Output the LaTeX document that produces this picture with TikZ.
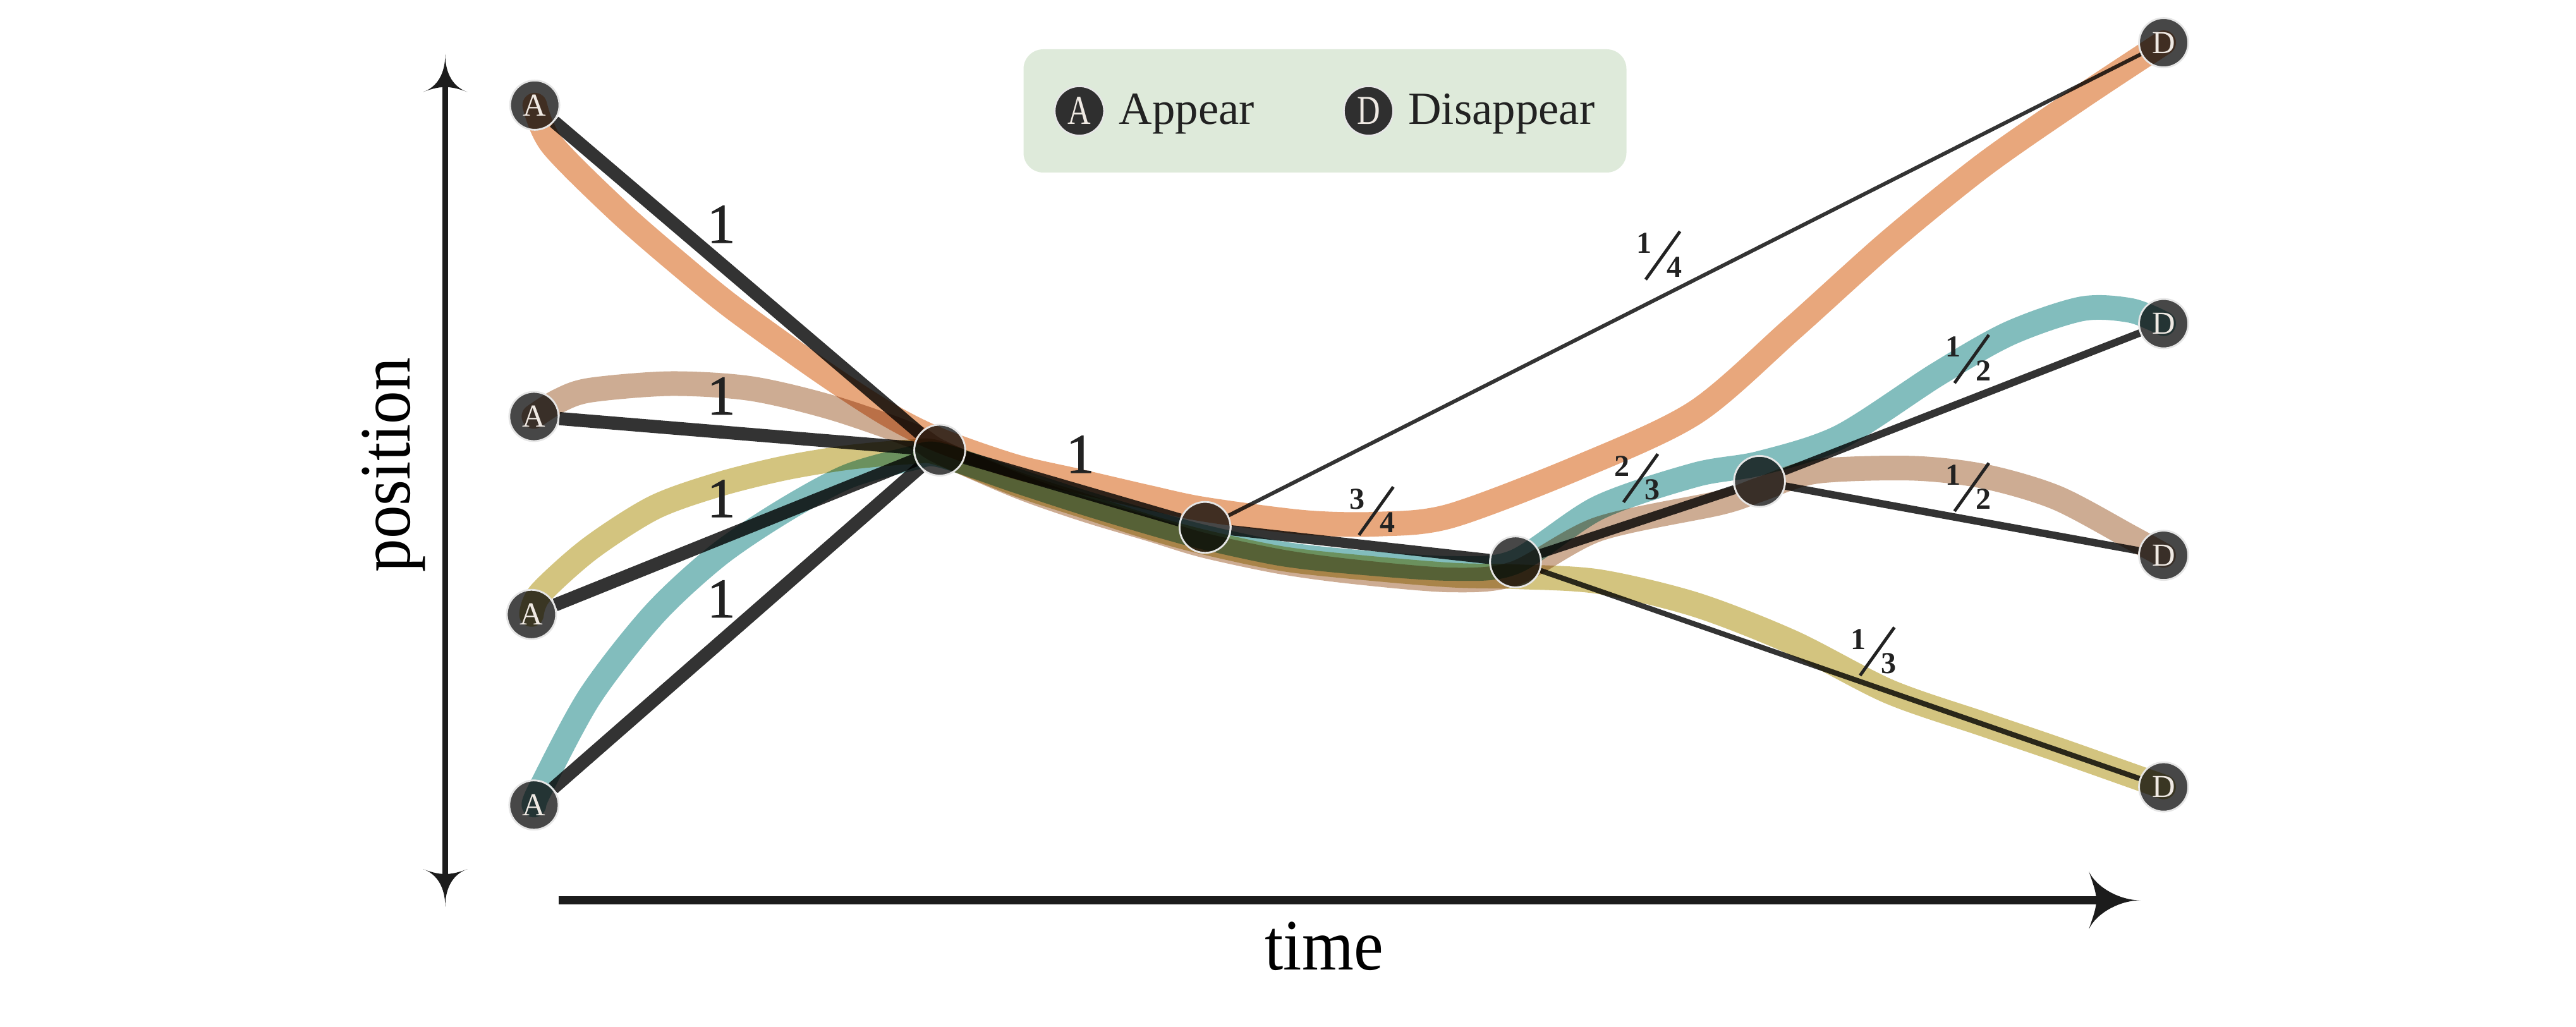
\documentclass[tikz,border=0pt]{standalone}
\usepackage{fontspec}
\setmainfont{Liberation Serif}
\newfontfamily\heavyserif[FakeBold=1.3]{Liberation Serif}
\usetikzlibrary{calc}
\definecolor{orangeT}{HTML}{E8A77C}
\definecolor{tanT}{HTML}{CDAC93}
\definecolor{yellowT}{HTML}{D3C47F}
\definecolor{tealT}{HTML}{82BDBD}
\definecolor{blk}{HTML}{333333}
\definecolor{nodefill}{HTML}{474747}
\definecolor{nodering}{HTML}{E6E6E6}
\definecolor{nodetext}{HTML}{EFE9E3}
\definecolor{legendbg}{HTML}{DEEADA}
\definecolor{legdotc}{HTML}{2F2F2F}
\definecolor{axisc}{HTML}{1C1C1C}
\definecolor{labelc}{HTML}{222222}
\pgfdeclarelayer{bg}
\pgfsetlayers{bg,main}
\newcommand{\myfr}[2]{\rlap{\raisebox{14.5pt}{#1}}\rlap{\hspace{4.8pt}\raisebox{-2pt}{\rotatebox{54.5}{\rule{36pt}{1.9pt}}}}\hspace{18.5pt}#2}
\begin{document}
\begin{tikzpicture}[x=1pt,y=-1pt,
  track/.style={line width=15pt, line cap=round, line join=round},
  conn/.style={draw=blk, line cap=butt},
  endpt/.style={circle, minimum size=30pt, inner sep=0pt, draw=nodering, line width=1.1pt, text=nodetext, font=\fontsize{19.5}{19.5}\selectfont},
  mnode/.style={circle, minimum size=31pt, inner sep=0pt, draw=nodering, line width=1.1pt},
  onelab/.style={text=labelc, font=\heavyserif\fontsize{34}{34}\selectfont, inner sep=0pt},
  fraclab/.style={text=labelc, font=\bfseries\fontsize{18.5}{18.5}\selectfont, inner sep=0pt},
  legbox/.style={fill=legendbg, rounded corners=12pt, minimum width=367pt, minimum height=75pt, inner sep=0pt},
  legdot/.style={circle, fill=legdotc, draw=nodering, line width=1pt, minimum size=30pt, inner sep=0pt, text=nodetext, font=\fontsize{25}{25}\selectfont},
  legtxt/.style={text=labelc, font=\fontsize{28}{28}\selectfont, inner sep=0pt},
  axlab/.style={text=black, font=\fontsize{44}{44}\selectfont, inner sep=0pt},
  axisline/.style={draw=axisc},
]
\useasboundingbox (0,0) rectangle (1568,625);

% legend
\node[legbox] (legend) at (806.5,67.5) {};
\node[legdot] (legA) at (657,67.5) {\scalebox{0.78}[1]{A}};
\node[legtxt, anchor=base west] (legAt) at (681,75.5) {Appear};
\node[legdot] (legD) at (833,67.5) {\scalebox{0.78}[1]{D}};
\node[legtxt, anchor=base west] (legDt) at (857,75.5) {Disappear};

% axes
\coordinate (vtop) at (271,33);
\coordinate (vbot) at (271,552);
\coordinate (hstart) at (340,548);
\coordinate (htip) at (1303,548);
\draw[axisline, line width=3.5pt] (271,52) -- (271,533);
\fill[axisc] (vtop) .. controls (271,45) and (266,53) .. (257.5,56) .. controls (264,53.5) and (268,53) .. (271,53) .. controls (274,53) and (278,53.5) .. (284.5,56) .. controls (276,53) and (271,45) .. (vtop) -- cycle;
\fill[axisc] (vbot) .. controls (271,540) and (266,532) .. (257.5,529) .. controls (264,531.5) and (268,532) .. (271,532) .. controls (274,532) and (278,531.5) .. (284.5,529) .. controls (276,532) and (271,540) .. (vbot) -- cycle;
\draw[axisline, line width=5.3pt] (hstart) -- (1278,548);
\fill[axisc] (htip) .. controls (1290,548) and (1276,540) .. (1271.5,530.5) .. controls (1274,538) and (1276,543) .. (1276,548) .. controls (1276,553) and (1274,558) .. (1271.5,565.5) .. controls (1276,556) and (1290,548) .. (htip) -- cycle;
\node[axlab, rotate=90] (ylab) at (239.5,283) {\scalebox{0.92}[1]{position}};
\node[axlab] (xlab) at (806,576) {\scalebox{0.92}[1]{time}};

% nodes
\node[endpt] (A1) at (325.5,64) {A};
\node[endpt] (A2) at (325,253.5) {A};
\node[endpt] (A3) at (323.5,374) {A};
\node[endpt] (A4) at (325,490) {A};
\node[mnode] (M1) at (572,274) {};
\node[mnode] (M2) at (733.5,321) {};
\node[mnode] (M3) at (922.5,342) {};
\node[mnode] (M4) at (1071,293) {};
\node[endpt] (D1) at (1317,26) {D};
\node[endpt] (D2) at (1317,197) {D};
\node[endpt] (D3) at (1317,338) {D};
\node[endpt] (D4) at (1317,479) {D};

\begin{pgfonlayer}{bg}
\begin{scope}[blend mode=multiply]
% tracks
\draw[track, orangeT] plot[smooth] coordinates {(A1.center) (336,88) (377,129) (415,162) (447,188) (500,226) (540,252) (572,268) (618,284) (657,293) (700,303) (733,310) (794,318) (839,319) (883,314) (962,284) (1032,251) (1091,200) (1150,147) (1208,100) (1267,59) (D1.center)};
\draw[track, tanT] plot[smooth] coordinates {(A2.center) (340,244) (359,237.5) (408,233.5) (457,236.5) (506,248) (555,265) (572,275) (620,296) (660,310) (700,322) (733,332) (780,342) (824,348) (883,353) (922,349) (973,322) (1047,306) (1071,298) (1105,287) (1164,285) (1208,290) (1252,303) (1297,327) (D3.center)};
\draw[track, yellowT] plot[smooth] coordinates {(A3.center) (329,361) (359,334) (398,309) (437,295) (477,285) (516,278.5) (555,275) (572,276) (620,295) (660,308) (700,321) (733,330) (780,340) (824,345) (883,350) (922,351) (973,354) (1032,368) (1091,391) (1150,421) (1208,441) (1252,456) (D4.center)};
\draw[track, tealT] plot[smooth] coordinates {(A4.center) (329,480) (359,424) (398,374) (437,338) (477,311) (516,290) (555,279) (572,277) (620,293) (660,306) (700,318) (733,327) (780,337) (824,342) (883,346) (922,342) (973,309) (1032,289) (1071,282) (1120,266) (1179,228) (1223,203) (1267,188) (1297,189) (D2.center)};
% connectors
\draw[conn, line width=8pt] (A1) -- (M1);
\draw[conn, line width=8pt] (A2) -- (M1);
\draw[conn, line width=8pt] (A3) -- (M1);
\draw[conn, line width=8pt] (A4) -- (M1);
\draw[conn, line width=8pt] (M1) -- (M2);
\draw[conn, line width=2.3pt] (M2) -- (D1);
\draw[conn, line width=6.2pt] (M2) -- (M3);
\draw[conn, line width=5.6pt] (M3) -- (M4);
\draw[conn, line width=3.2pt] (M3) -- (D4);
\draw[conn, line width=4.5pt] (M4) -- (D2);
\draw[conn, line width=4.5pt] (M4) -- (D3);
% node fills
\foreach \n in {A1,A2,A3,A4,D1,D2,D3,D4}{\fill[nodefill] (\n.center) circle[radius=15pt];}
\foreach \n in {M1,M2,M3,M4}{\fill[nodefill] (\n.center) circle[radius=15.5pt];}
\end{scope}
\end{pgfonlayer}

% weight labels
\node[onelab] (w1) at (439,136.5) {1};
\node[onelab] (w2) at (439,241) {1};
\node[onelab] (w3) at (439,303.5) {1};
\node[onelab] (w4) at (439,364.5) {1};
\node[onelab] (w5) at (657.5,276.5) {1};
\node[fraclab] (w6) at (1010,155.5) {\myfr{1}{4}};
\node[fraclab] (w7) at (835.5,311) {\myfr{3}{4}};
\node[fraclab] (w8) at (996.5,291) {\myfr{2}{3}};
\node[fraclab] (w9) at (1198,218.5) {\myfr{1}{2}};
\node[fraclab] (w10) at (1198,296.5) {\myfr{1}{2}};
\node[fraclab] (w11) at (1140.5,396.5) {\myfr{1}{3}};
\end{tikzpicture}
\end{document}
